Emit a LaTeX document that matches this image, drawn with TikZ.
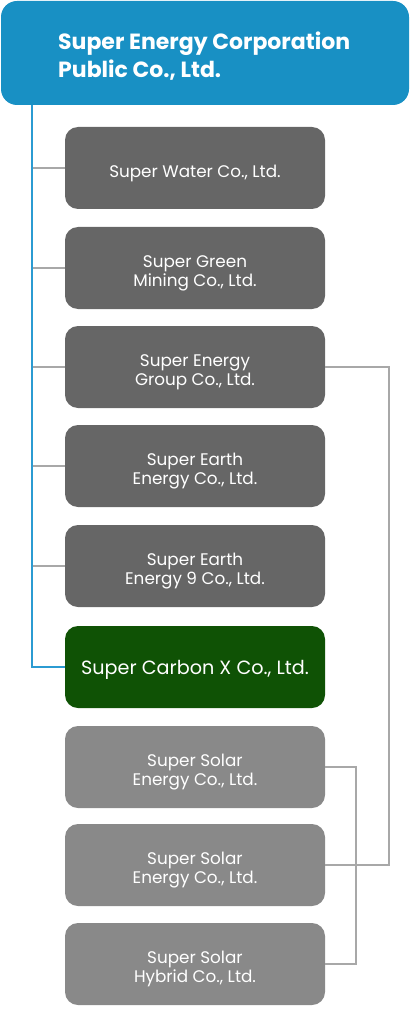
\documentclass[tikz,border=0pt]{standalone}
\usepackage{fontspec}
\setmainfont{Poppins}
\definecolor{topblue}{HTML}{1890C4}
\definecolor{boxdark}{HTML}{666666}
\definecolor{boxgreen}{HTML}{0F5205}
\definecolor{boxlight}{HTML}{898989}
\definecolor{linegray}{HTML}{A8A8A8}
\definecolor{lineblue}{HTML}{2B9BD2}
\tikzset{
  company/.style={rounded corners=13pt, minimum width=260pt, minimum height=82pt, inner sep=0pt,
    text=white, align=center, text depth=0pt, text height=37.9pt, font=\fontsize{16.8}{19.5}\selectfont},
  oneline/.style={text height=18.4pt},
  darkbox/.style={company, fill=boxdark},
  lightbox/.style={company, fill=boxlight},
  greenbox/.style={company, fill=boxgreen, text height=15pt, font=\fontsize{19.2}{22}\selectfont},
  trunk/.style={draw=lineblue, line width=1.3pt},
  branch/.style={draw=linegray, line width=1.4pt},
}
\begin{document}
\begin{tikzpicture}[x=1pt,y=-1pt]
\useasboundingbox (0,0) rectangle (410,1024);
\node[fill=topblue, rounded corners=16pt, minimum width=408pt, minimum height=104pt, inner sep=0pt] (top) at (205,53) {};
\node[anchor=west, text=white, align=left, inner sep=0pt, font=\fontsize{22}{28}\selectfont\bfseries] (toptext) at (58,56) {Super Energy Corporation\\Public Co., Ltd.};

\node[darkbox, oneline] (b1) at (195,168) {Super Water Co., Ltd.};
\node[darkbox] (b2) at (195,268) {Super Green\\Mining Co., Ltd.};
\node[darkbox] (b3) at (195,367) {Super Energy\\Group Co., Ltd.};
\node[darkbox] (b4) at (195,466) {Super Earth\\Energy Co., Ltd.};
\node[darkbox] (b5) at (195,566) {Super Earth\\Energy 9 Co., Ltd.};
\node[greenbox] (carbon) at (195,667) {Super Carbon X Co., Ltd.};
\node[lightbox] (s1) at (195,767) {Super Solar\\Energy Co., Ltd.};
\node[lightbox] (s2) at (195,865) {Super Solar\\Energy Co., Ltd.};
\node[lightbox] (s3) at (195,964) {Super Solar\\Hybrid Co., Ltd.};

\coordinate (t0) at (32,105);
\coordinate (r1) at (389,0);
\coordinate (r2) at (356,0);

\foreach \n in {b1,b2,b3,b4,b5}
  \draw[branch] (\n.west) -- (\n.west -| t0);
\draw[trunk] (t0) |- (carbon.west);

\draw[branch] (b3.east) -- (b3.east -| r1) |- (s2.east);
\draw[branch] (s1.east) -- (s1.east -| r2) |- (s3.east);
\end{tikzpicture}
\end{document}
